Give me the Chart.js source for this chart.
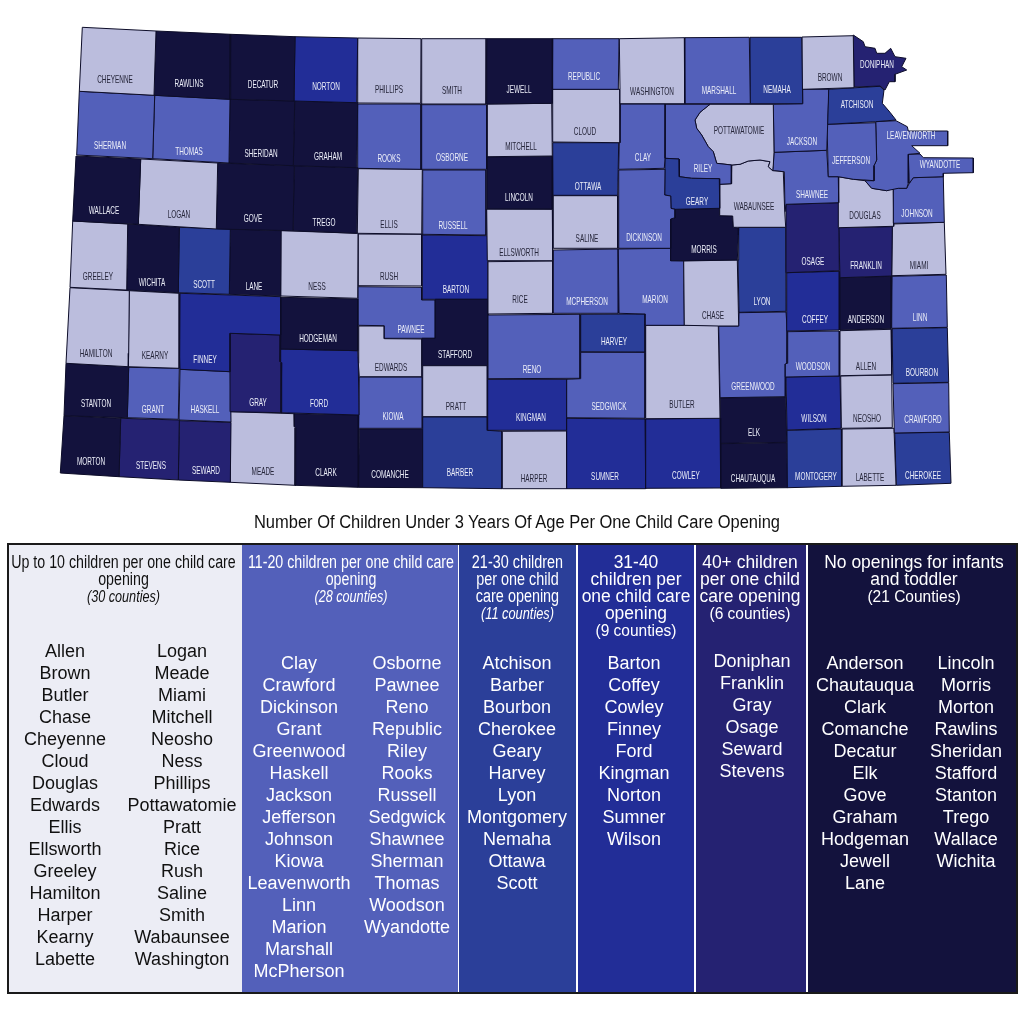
<!DOCTYPE html>
<html>
<head>
<meta charset="utf-8">
<script src="https://cdn.jsdelivr.net/npm/chart.js"></script>
<style>
    body { margin: 0; background: #fff; font-family: "Liberation Sans", Arial, sans-serif; }
    #wrap { position: relative; width: 1024px; height: 1024px; overflow: hidden; }
    #map { position: absolute; left: 0; top: 0; }
    #title { position: absolute; left: 0; width: 1034px; top: 511px; text-align: center; font-size: 18px; line-height: 22px; color: #111; transform: scaleX(.916); }
    #box { position: absolute; left: 7px; top: 543px; width: 1011px; height: 451px; box-sizing: border-box; border: 2px solid #1a1a1a; }
    .panel { position: absolute; top: 545px; height: 447px; }
    .head { position: absolute; top: 9px; left: -100px; right: -100px; text-align: center; font-size: 18px; line-height: 17px; white-space: nowrap; }
    .note { font-size: 16px; }
    .row { position: absolute; width: 140px; text-align: center; font-size: 18px; line-height: 22px; white-space: nowrap; }
</style>
</head>
<body>
<div id="wrap">
    <canvas id="map" width="1024" height="1024"></canvas>
    <div id="title">Number Of Children Under 3 Years Of Age Per One Child Care Opening</div>
    <div id="box"></div>
</div>
<script>
    // the six groups of the key
    const tierHeads = [
        ['Up to 10 children per one child care', 'opening'],
        ['11-20 children per one child care', 'opening'],
        ['21-30 children', 'per one child', 'care opening'],
        ['31-40', 'children per', 'one child care', 'opening'],
        ['40+ children', 'per one child', 'care opening'],
        ['No openings for infants', 'and toddler']
    ];
    const tierNotes = ['(30 counties)', '(28 counties)', '(11 counties)', '(9 counties)', '(6 counties)', '(21 Counties)'];
    const tierCounties = [
        ['Allen', 'Brown', 'Butler', 'Chase', 'Cheyenne', 'Cloud', 'Douglas', 'Edwards', 'Ellis', 'Ellsworth', 'Greeley', 'Hamilton', 'Harper', 'Kearny', 'Labette',
            'Logan', 'Meade', 'Miami', 'Mitchell', 'Neosho', 'Ness', 'Phillips', 'Pottawatomie', 'Pratt', 'Rice', 'Rush', 'Saline', 'Smith', 'Wabaunsee', 'Washington'],
        ['Clay', 'Crawford', 'Dickinson', 'Grant', 'Greenwood', 'Haskell', 'Jackson', 'Jefferson', 'Johnson', 'Kiowa', 'Leavenworth', 'Linn', 'Marion', 'Marshall', 'McPherson',
            'Osborne', 'Pawnee', 'Reno', 'Republic', 'Riley', 'Rooks', 'Russell', 'Sedgwick', 'Shawnee', 'Sherman', 'Thomas', 'Woodson', 'Wyandotte'],
        ['Atchison', 'Barber', 'Bourbon', 'Cherokee', 'Geary', 'Harvey', 'Lyon', 'Montgomery', 'Nemaha', 'Ottawa', 'Scott'],
        ['Barton', 'Coffey', 'Cowley', 'Finney', 'Ford', 'Kingman', 'Norton', 'Sumner', 'Wilson'],
        ['Doniphan', 'Franklin', 'Gray', 'Osage', 'Seward', 'Stevens'],
        ['Anderson', 'Chautauqua', 'Clark', 'Comanche', 'Decatur', 'Elk', 'Gove', 'Graham', 'Hodgeman', 'Jewell', 'Lane',
            'Lincoln', 'Morris', 'Morton', 'Rawlins', 'Sheridan', 'Stafford', 'Stanton', 'Trego', 'Wallace', 'Wichita']
    ];

    // county outlines, x,y pairs in map units, same order as countyNames
    const countyNames = [
        'Cheyenne', 'Rawlins', 'Decatur', 'Norton', 'Sherman', 'Thomas', 'Sheridan', 'Graham', 'Wallace', 'Logan', 'Gove', 'Trego',
        'Greeley', 'Wichita', 'Scott', 'Lane', 'Ness', 'Hamilton', 'Kearny', 'Finney', 'Gray', 'Hodgeman', 'Ford',
        'Stanton', 'Grant', 'Haskell', 'Morton', 'Stevens', 'Seward', 'Meade', 'Clark',
        'Phillips', 'Smith', 'Jewell', 'Republic', 'Washington', 'Cloud', 'Rooks', 'Osborne', 'Mitchell', 'Lincoln', 'Ottawa', 'Saline', 'Ellis', 'Russell', 'Ellsworth', 'Clay',
        'Dickinson', 'Geary', 'Riley', 'Pottawatomie', 'Wabaunsee', 'Marshall', 'Nemaha', 'Brown', 'Doniphan', 'Atchison', 'Jackson', 'Jefferson', 'Leavenworth', 'Wyandotte', 'Johnson',
        'Shawnee', 'Douglas', 'Osage', 'Franklin', 'Miami', 'Morris', 'Lyon', 'Chase', 'Marion', 'McPherson', 'Rice', 'Reno', 'Harvey', 'Sedgwick', 'Butler', 'Cowley', 'Sumner',
        'Kingman', 'Harper', 'Barber', 'Pratt', 'Stafford', 'Barton', 'Rush', 'Pawnee', 'Edwards', 'Kiowa', 'Comanche',
        'Coffey', 'Anderson', 'Linn', 'Woodson', 'Allen', 'Bourbon', 'Greenwood', 'Elk', 'Chautauqua', 'Wilson', 'Neosho', 'Crawford', 'Montgomery', 'Labette', 'Cherokee'
    ];
    const countyShapes = [
        [82.3,27.3, 156,31, 154,95.3, 79.3,91.3],
        [156,31, 230.7,34.3, 230,99.3, 154,95.3],
        [230.7,34.3, 295,36.7, 294,101, 230,99.3],
        [295,36.7, 357.7,38, 356.7,102.7, 294,101],
        [79.3,91.3, 154.7,95.3, 152.7,158.7, 76.7,155],
        [154.7,95.3, 230,99.3, 229,163, 152.7,158.7],
        [230,99.3, 294.7,101, 293.3,165.7, 229,163],
        [294.7,101, 357.7,102.7, 356.7,167.7, 293.3,165.7],
        [76,156, 140.7,159, 138.3,224.3, 72.7,221],
        [140.7,159, 217.7,163, 216.3,229, 138.3,224.3],
        [217.7,163, 294.3,165.7, 293,230.7, 216.3,229],
        [294.3,165.7, 357.7,167.7, 356.7,233.3, 293,230.7],
        [72.7,221, 127.7,224, 126.7,290, 70,287.3],
        [127.7,224, 179.3,227.3, 178.3,292.7, 126.7,290],
        [179.3,227.3, 230.3,229, 229.3,294.3, 178.3,292.7],
        [230.3,229, 281,230.7, 280.7,296, 229.3,294.3],
        [281,230.7, 358,233.3, 357.7,298.3, 280.7,296],
        [70,287.7, 129.3,290.7, 128.7,353.3, 128.3,366.7, 66,363.3],
        [129.3,290.7, 179.3,293.3, 179,356.7, 179.3,368.3, 128.3,366.7, 128,353.7, 128.7,353.3],
        [180,293.3, 280.7,296.7, 280.7,335, 230,333.3, 230,371.7, 180,369.3, 179.7,356.7],
        [230,333.3, 280.7,335, 280,361.7, 281.7,362.7, 281,412.7, 230.3,411.7],
        [280.7,297.3, 357.7,299, 357.7,350.7, 280.7,349],
        [280.7,349, 357.7,350.7, 358.3,365, 359,415, 281,412.7, 281.7,362.7, 280,361.7],
        [66,363.3, 128.7,366.7, 127.3,417.7, 64,415.7],
        [128.7,367.3, 179.3,368.3, 178.3,419.3, 127.3,417.7],
        [180,369.3, 230.3,371.7, 231,422, 179,420],
        [64,415.7, 120.7,418.3, 119,476.7, 60.3,473],
        [120.7,418.3, 179.3,420, 178.3,480, 119,476.7],
        [179.3,420.7, 231,422.3, 230.3,482.3, 178.3,480],
        [230.3,411.7, 294,413.7, 294.3,426.7, 295.7,427.7, 295,485.3, 230.3,482.3],
        [294,413.7, 358.3,415, 358.3,487.3, 295,485.3, 295.7,427.7, 294.3,426.7],
        [357.7,38, 421,38.7, 420.7,103.3, 357,103],
        [421.7,38.7, 486.7,38.7, 486,104, 421,104],
        [486.7,38.7, 552.7,38.7, 552.3,103.3, 486.7,104],
        [552.7,38.7, 619,38.7, 618.3,89.3, 552.7,89.3],
        [619.3,38.7, 684.3,37.7, 684.7,103.7, 620,103.7, 620,89.3],
        [552.7,89.3, 620,89.3, 620,142.7, 552.7,142],
        [357.7,104, 421,104, 421,169.3, 357,168.3],
        [421.7,104.7, 486.7,104.7, 486.7,169.3, 421.3,169.3],
        [487.3,104, 551.7,103.3, 552.3,156, 487,156.7],
        [487,157, 552.3,156.3, 552.3,209, 487,209],
        [552.7,142.7, 618.7,142.7, 617.7,195.3, 553,195.3],
        [553.3,195.7, 617.7,195.7, 617.7,248.3, 553.3,248.3],
        [358.3,168.7, 422.3,169.3, 421.7,234, 357.3,233.3],
        [422.7,170, 486,170, 486,235, 422,234.3],
        [486.7,209, 552.3,209.3, 552.7,260.7, 487.3,260.7],
        [620,104, 665.3,104, 665,158.3, 664.3,168.3, 618.7,169.3],
        [618.7,170, 665,169.3, 664.7,195, 670.7,196, 671,208.3, 675,209.3, 675,217.7, 670.7,219, 670.7,248.3, 618.3,248.3],
        [665,158.3, 679,159, 679.3,176.7, 691.7,178.3, 719.3,178.7, 719.7,208.3, 675,209.3, 671,208.3, 670.7,196, 664.7,195],
        [665,104.3, 710,104.3, 700,112.3, 695,120, 696.7,128.3, 701.7,135, 708.3,146.7, 713.3,151.7, 716.7,163.3, 731.7,165, 731.3,183.7, 719.7,184.3, 719.3,178.7, 691.7,178.3, 679.3,176.7, 679,159, 665,158.3],
        [710,104.3, 773.3,104.3, 774,152.3, 773.3,165, 772.7,170.7, 768.3,166.7, 770,161.7, 760,160, 748.3,161, 740,164.3, 731.7,165, 716.7,163.3, 713.3,151.7, 708.3,146.7, 701.7,135, 696.7,128.3, 695,120, 700,112.3],
        [731.7,165, 740,164.3, 748.3,161, 760,160, 770,161.7, 768.3,166.7, 772.7,170.7, 783.3,171.7, 784.7,211, 785.7,227.3, 733.3,227.3, 732.7,216, 719.7,215.7, 719.7,184.3, 731.3,183.7],
        [684.7,37.7, 749.3,37.3, 750.3,103.7, 685,103.7],
        [750,37.3, 801.7,37.3, 802.7,103.7, 750.7,103.7],
        [802,37, 853.3,35.7, 854,87.7, 802.7,89.3],
        [853.3,35, 863.3,41.7, 865,46.7, 875,48.3, 876.7,53.3, 885,53.3, 890.7,48.3, 895,56.7, 906,58.3, 901.7,66.7, 906.7,70, 895,74.3, 895,81.7, 889.3,81.7, 885,90, 880,86, 854,87],
        [828.7,89.3, 880,86.3, 884,90, 882.3,103.3, 890,112.3, 896,120, 875.7,121.7, 827.7,124.3],
        [802.7,89.3, 829,89.3, 826.7,150.3, 774,152.3, 773.3,104.3, 802.7,103.7],
        [827,124.3, 875.7,122.7, 876.7,160, 874,165.7, 874,180.7, 865,180, 853.3,179.3, 838.3,176.7, 828.3,176.7],
        [875.7,121.7, 896,120.7, 907.3,126.7, 908.3,131, 947.7,131, 947.7,145.7, 911.7,145.7, 920,153.3, 908.3,154.3, 908.3,183.3, 906.7,188.3, 898.3,188.3, 886.7,190.7, 871.7,188.3, 865,180.7, 874,180.7, 874,165.7, 876.7,160],
        [908.3,154.3, 920,154, 923.3,157.7, 973.3,158, 973.3,172.7, 943.3,173.3, 943.3,176.7, 913.3,177.7, 909.3,183.3],
        [913.3,177.7, 943.3,176.7, 944.3,222.3, 893.7,223.3, 893.3,188.3, 898.3,188.3, 906.7,188.3, 909.3,183.3],
        [774,152.3, 826.7,150.3, 828.3,176.7, 838.3,176.7, 838.7,202.7, 786,204.3, 785,211.7, 784.3,171.7, 772.7,170.7, 773.3,165],
        [838.3,176.7, 853.3,179.3, 865,180.7, 871.7,188.3, 886.7,190.7, 893.3,188.3, 893.7,226.3, 838.7,227.7],
        [786,204.3, 838.7,202.7, 839.3,270.7, 786.7,272.7],
        [838.7,227.7, 892.3,226.7, 891.7,276, 840,277.7],
        [892.3,224, 944.3,222.3, 946,274.3, 891.7,275.7],
        [675,209.3, 719.7,208.3, 719.7,215.7, 732.7,216, 733.3,227.3, 738.7,228.3, 738.3,235, 737.3,260, 670.7,260.7, 670.7,219, 675,217.7],
        [738.7,227.3, 785.7,227.3, 786,311.3, 739,312.3, 738,260],
        [683.7,261, 737.3,260, 738.7,326, 718.3,326, 684.3,325.3],
        [618.3,249, 670.7,248.3, 670.7,260.7, 683.7,261, 684.3,325.3, 645.7,325.3, 645.3,314, 619,313.3],
        [553.3,250, 618,249, 618.3,313.3, 553.3,313.3],
        [488,261.7, 552.7,261, 552.7,313.3, 488,314],
        [488,315, 580,314.3, 580,378.3, 488,378.7],
        [580.7,314.3, 645,314, 645,352, 580.7,351.7],
        [580.7,352.3, 645,352.3, 645,418.3, 566.7,417.7, 566.7,379.3, 580,378.7],
        [645.7,325.3, 718.3,325.3, 720,418.3, 645.7,418.7],
        [645.7,419, 720,418.3, 720.7,488, 645.7,488.3],
        [566.7,418.3, 645,419, 645.7,488.7, 566.7,488.7],
        [487.7,379.3, 566.7,379.3, 566.7,430.3, 487.7,430.3],
        [502.3,431.3, 566.7,431, 566.7,488.7, 502.3,488.7],
        [422.7,417, 487.3,417, 487.3,430.3, 502,431.3, 502,488.7, 422.7,487.7],
        [422.7,365.7, 487.3,365.7, 487.3,416.7, 422.7,416.7],
        [435.3,299.3, 488,299.3, 488,365.7, 422,365.7, 422,338.3, 435.3,338.3],
        [422.3,235, 487.7,235.7, 488,299.3, 422,299.3],
        [358.3,234, 421.7,234.3, 421.7,286, 358,285.7],
        [358,286.7, 421.7,287.3, 421.7,300, 435.3,300, 435.3,338.3, 384.3,338.3, 384.3,325.7, 358.3,325.3],
        [358.7,326, 384.3,326, 384.3,338.7, 422,339, 422,376.7, 359.3,376.7, 358.3,363.3],
        [359.3,377, 422.3,377, 422.3,428.3, 358.7,428.3],
        [359.3,429, 423.3,429, 422.7,487.7, 358.7,487.3],
        [786.7,272.7, 839.3,271.3, 839.3,330, 786.7,331],
        [840,277.7, 891.7,276.3, 891,328.7, 840,330],
        [892,276.3, 946.3,275, 947.3,327.3, 891.7,328.3],
        [787.7,331.7, 839.3,331, 839.3,376, 785.7,377, 785.3,364, 787,363.3],
        [840,330.7, 891,329.3, 891.7,374.7, 840.3,375.7],
        [892,328.7, 947.3,327.7, 948.7,382.3, 893,383.3],
        [739,312.7, 786,312, 787.3,331, 787,363.3, 785.3,364, 785.3,396.7, 720,397.7, 718.7,326, 738.7,326],
        [720.3,398, 785.7,397, 786.7,442.3, 720.7,443.3],
        [720.7,443.7, 786.7,442.7, 787.3,487.7, 720.7,488.3],
        [786,377, 840,376, 841,428.3, 787,430],
        [840.7,376, 891.7,375, 892.3,427.7, 841.3,428.3],
        [893,383.7, 948.7,382.7, 949.3,432, 894.3,433],
        [787,430.3, 841.3,429, 841.7,486.3, 787.7,487.7],
        [842,429, 894,428.3, 896,485.3, 842.3,486.3],
        [894.7,433, 949.3,432.3, 951,483.3, 896.3,485.3]
    ];
    // where each county name sits, same order again
    const labelSpots = [
        [115,80], [189,84], [263,85], [326,87], [110,146], [189,152], [261,154], [328,157], [104,211], [179,215], [253,219], [324,223],
        [98,277], [152,283], [204,285], [254,287], [317,287], [96,354], [155,356], [205,360], [258,403], [318,339], [319,404],
        [96,404], [153,410], [205,410], [91,462], [151,466], [206,471], [263,472], [326,473],
        [389,90], [452,91], [519,90], [584,77], [652,92], [585,132], [389,159], [452,158], [521,147], [519,198], [588,187], [587,239], [389,225], [453,226], [519,253], [643,158],
        [644,238], [697,202], [703,169], [739,131], [754,207], [719,91], [777,90], [830,78], [877,65], [857,105], [802,142], [851,161], [911,136], [940,165], [917,214],
        [812,195], [865,216], [813,262], [866,266], [919,266], [704,250], [762,302], [713,316], [655,300], [587,302], [520,300], [532,370], [614,342], [609,407], [682,405], [686,476], [605,477],
        [531,418], [534,479], [460,473], [456,407], [455,355], [456,290], [389,277], [411,330], [391,368], [393,417], [390,475],
        [815,320], [866,320], [920,318], [813,367], [866,367], [922,373], [753,387], [754,433], [753,479], [814,419], [867,419], [923,420], [816,477], [870,478], [923,476]
    ];

    const mapFills = ['#BBBDDD', '#5360BA', '#2B3F99', '#222D97', '#252272', '#13123D'];
    const panelFills = ['#ECEDF5', '#5360BA', '#2B3F99', '#222D97', '#252272', '#13123D'];
    const panelEdges = [[9, 242], [242, 458], [459, 576], [578, 694], [696, 806], [808, 1016]];
    const panelColumns = [[65, 182], [299, 407], [517], [634], [752], [865, 966]];
    const panelSplit = [15, 15, 11, 9, 6, 11];
    const panelRowTop = [640, 652, 652, 652, 650, 652];
    const headSqueeze = [0.79, 0.79, 0.8, 0.97, 0.97, 0.97];
    const headShift = [-2, 1, 0, 0, -1, 2];

    const tierOf = name => tierCounties.findIndex(list => list.includes(name));

    const datasets = countyNames.map((name, i) => {
        const flat = countyShapes[i];
        const points = [];
        for (let k = 0; k < flat.length; k += 2) points.push({ x: flat[k], y: flat[k + 1] });
        points.push(points[0]);
        return {
            label: name,
            data: points,
            showLine: true,
            fill: 'shape',
            tension: 0,
            pointRadius: 0,
            borderWidth: 1,
            borderColor: '#0c0c28',
            backgroundColor: mapFills[tierOf(name)]
        };
    });

    const countyLabels = {
        id: 'countyLabels',
        afterDatasetsDraw(chart) {
            const ctx = chart.ctx;
            ctx.font = '10.5px "Liberation Sans", sans-serif';
            ctx.textAlign = 'center';
            ctx.textBaseline = 'middle';
            countyNames.forEach((name, i) => {
                const text = name === 'Montgomery' ? 'MONTOGERY' : name.toUpperCase();
                ctx.save();
                ctx.fillStyle = tierOf(name) === 0 ? '#26263a' : '#eceef8';
                ctx.translate(chart.scales.x.getPixelForValue(labelSpots[i][0]), chart.scales.y.getPixelForValue(labelSpots[i][1]));
                ctx.scale(0.61, 1); // the labels are set in a condensed face
                ctx.fillText(text, 0, 0);
                ctx.restore();
            });
        }
    };

    new Chart(document.getElementById('map').getContext('2d'), {
        type: 'scatter',
        data: { datasets: datasets },
        plugins: [countyLabels],
        options: {
            responsive: false,
            animation: false,
            layout: { padding: 0 },
            plugins: { legend: { display: false }, tooltip: { enabled: false } },
            scales: {
                x: { type: 'linear', min: 0, max: 1024, display: false },
                y: { type: 'linear', min: 0, max: 1024, reverse: true, display: false }
            }
        }
    });

    // the key under the map
    const wrap = document.getElementById('wrap');
    tierCounties.forEach((list, t) => {
        const panel = document.createElement('div');
        panel.className = 'panel';
        const left = panelEdges[t][0], right = panelEdges[t][1];
        panel.style.left = left + 'px';
        panel.style.width = (right - left) + 'px';
        panel.style.background = panelFills[t];
        panel.style.color = t === 0 ? '#111' : '#fff';

        const head = document.createElement('div');
        head.className = 'head';
        head.style.transform = 'translateX(' + headShift[t] + 'px) scaleX(' + headSqueeze[t] + ')';
        tierHeads[t].forEach(line => {
            const d = document.createElement('div');
            d.textContent = line;
            head.appendChild(d);
        });
        const note = document.createElement('div');
        note.className = 'note';
        note.textContent = tierNotes[t];
        if (headSqueeze[t] < 0.9) note.style.fontStyle = 'italic';
        head.appendChild(note);
        panel.appendChild(head);

        const cols = panelColumns[t];
        list.forEach((name, i) => {
            const c = i < panelSplit[t] ? 0 : 1;
            const r = c === 0 ? i : i - panelSplit[t];
            const row = document.createElement('div');
            row.className = 'row';
            row.textContent = name;
            row.style.left = (cols[c] - left - 70) + 'px';
            row.style.top = (panelRowTop[t] + r * 22 - 545) + 'px';
            panel.appendChild(row);
        });
        wrap.appendChild(panel);
    });
</script>
</body>
</html>
